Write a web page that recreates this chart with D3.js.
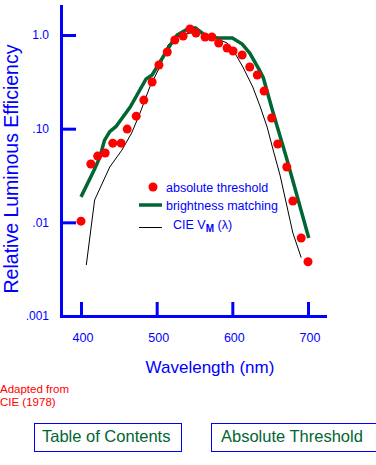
<!DOCTYPE html>
<html>
<head>
<meta charset="utf-8">
<script src="https://cdn.jsdelivr.net/npm/d3@7"></script>
<style>
  body { margin: 0; background: #fff; }
  svg { display: block; font-family: "Liberation Sans", Arial, sans-serif; }
</style>
</head>
<body>
<div id="main"></div>
<script>
// values
const thresholdWl = [400, 413, 422, 432, 442, 453, 461, 473, 483, 494, 503, 514, 524, 535, 544, 552, 564, 573, 582, 593, 601, 613, 623, 633, 642, 652, 660, 672, 680, 691, 700];
const thresholdVal = [0.0103, 0.042, 0.051, 0.055, 0.070, 0.070, 0.099, 0.136, 0.202, 0.315, 0.478, 0.659, 0.885, 0.975, 1.16, 1.05, 0.952, 0.952, 0.822, 0.727, 0.675, 0.611, 0.455, 0.374, 0.252, 0.130, 0.0686, 0.039, 0.0169, 0.0068, 0.0038];

const brightWl = [400, 418, 425, 431, 438, 446, 465, 486, 494, 518, 527, 541, 551, 567, 582, 600, 613, 623, 636, 641, 654, 672, 701];
const brightVal = [0.0187, 0.037, 0.0498, 0.075, 0.093, 0.105, 0.170, 0.339, 0.374, 0.782, 1.0, 1.16, 1.19, 0.952, 0.929, 0.929, 0.80, 0.642, 0.42, 0.348, 0.147, 0.0475, 0.0068];

const cieWl = [407, 418, 438, 454, 467, 478, 491, 504, 515, 527, 544, 557, 574, 593, 601, 614, 627, 637, 646, 654, 663, 680, 691];
const cieVal = [0.0035, 0.0173, 0.039, 0.059, 0.090, 0.147, 0.279, 0.455, 0.782, 0.952, 1.05, 1.05, 0.952, 0.822, 0.692, 0.455, 0.279, 0.170, 0.104, 0.059, 0.032, 0.0077, 0.0042];

const xTicks = [400, 500, 600, 700];
const yTicks = [1, 0.1, 0.01, 0.001];
const yTickLabels = ['1.0', '.10', '.01', '.001'];

const w = 376, h = 465;
const blue = '#0000ff', green = '#006633', red = '#ff0000';

const svg = d3.select('#main')
  .append('svg')
  .attr('width', w)
  .attr('height', h);

const x = d3.scaleLinear().domain([400, 700]).range([81, 308]);
const y = d3.scaleLog().domain([0.001, 1]).range([316, 35]);

// axis lines
svg.append('line')
  .attr('x1', 61.5).attr('x2', 61.5).attr('y1', 5).attr('y2', 318)
  .attr('stroke', blue).attr('stroke-width', 3);
svg.append('line')
  .attr('x1', 60).attr('x2', 327).attr('y1', 316.5).attr('y2', 316.5)
  .attr('stroke', blue).attr('stroke-width', 3);

const yAxis = d3.axisLeft(y)
  .tickValues(yTicks)
  .tickFormat((d, i) => yTickLabels[i])
  .tickSize(-13)
  .tickPadding(14);

const gy = svg.append('g')
  .attr('transform', 'translate(63,0)')
  .call(yAxis);
gy.select('.domain').remove();
gy.selectAll('line').attr('stroke', blue).attr('stroke-width', 3);
gy.selectAll('text').attr('fill', blue).attr('font-size', 12).attr('font-family', null);

const xAxis = d3.axisBottom(x)
  .tickValues(xTicks)
  .tickSize(-13)
  .tickPadding(18);

const gx = svg.append('g')
  .attr('transform', 'translate(1.5,315)')
  .call(xAxis);
gx.select('.domain').remove();
gx.selectAll('line').attr('stroke', blue).attr('stroke-width', 3).attr('transform', 'translate(-1.5,0)');
gx.selectAll('text').attr('fill', blue).attr('font-size', 12.5).attr('font-family', null);

// curves
const line = d3.line().x(d => x(d[0])).y(d => y(d[1]));

svg.append('path')
  .datum(d3.zip(cieWl, cieVal))
  .attr('d', line)
  .attr('fill', 'none')
  .attr('stroke', '#000')
  .attr('stroke-width', 1);

svg.append('path')
  .datum(d3.zip(brightWl, brightVal))
  .attr('d', line)
  .attr('fill', 'none')
  .attr('stroke', green)
  .attr('stroke-width', 3.5);

svg.selectAll('circle.dot')
  .data(d3.zip(thresholdWl, thresholdVal))
  .enter()
  .append('circle')
  .attr('class', 'dot')
  .attr('cx', d => x(d[0]))
  .attr('cy', d => y(d[1]))
  .attr('r', 4.5)
  .attr('fill', red);

// legend
svg.append('circle').attr('cx', 153).attr('cy', 187).attr('r', 4.5).attr('fill', red);
svg.append('text').text('absolute threshold')
  .attr('x', 166).attr('y', 191.5).attr('font-size', 12.5).attr('fill', blue);
svg.append('line').attr('x1', 139).attr('x2', 162).attr('y1', 205).attr('y2', 205)
  .attr('stroke', green).attr('stroke-width', 3.5);
svg.append('text').text('brightness matching')
  .attr('x', 166).attr('y', 209.5).attr('font-size', 12.5).attr('fill', blue);
svg.append('line').attr('x1', 139).attr('x2', 162).attr('y1', 227.5).attr('y2', 227.5)
  .attr('stroke', '#000').attr('stroke-width', 1);
const cie = svg.append('text')
  .attr('x', 173).attr('y', 229).attr('font-size', 12.5).attr('fill', blue);
cie.append('tspan').text('CIE V');
cie.append('tspan').text('M').attr('dy', 3).attr('font-size', 10).attr('font-weight', 'bold');
cie.append('tspan').text(' (λ)').attr('dy', -3);

// axis titles
svg.append('text')
  .text('Relative Luminous Efficiency')
  .attr('transform', 'translate(18,169) rotate(-90)')
  .attr('text-anchor', 'middle')
  .attr('font-size', 19.5)
  .attr('fill', blue);

svg.append('text')
  .text('Wavelength (nm)')
  .attr('x', 210).attr('y', 373)
  .attr('text-anchor', 'middle')
  .attr('font-size', 17)
  .attr('fill', blue);

svg.append('text').text('Adapted from')
  .attr('x', 0).attr('y', 392.5).attr('font-size', 11.5).attr('fill', red);
svg.append('text').text('CIE (1978)')
  .attr('x', 0).attr('y', 405.5).attr('font-size', 11.5).attr('fill', red);

// buttons
svg.append('rect').attr('x', 34.5).attr('y', 423.5).attr('width', 147).attr('height', 28)
  .attr('fill', 'none').attr('stroke', blue);
svg.append('text').text('Table of Contents')
  .attr('x', 42).attr('y', 442).attr('font-size', 16.5).attr('fill', green);
svg.append('rect').attr('x', 211.5).attr('y', 423.5).attr('width', 180).attr('height', 28)
  .attr('fill', 'none').attr('stroke', blue);
svg.append('text').text('Absolute Threshold')
  .attr('x', 221).attr('y', 442).attr('font-size', 16.5).attr('fill', green);
</script>
</body>
</html>
